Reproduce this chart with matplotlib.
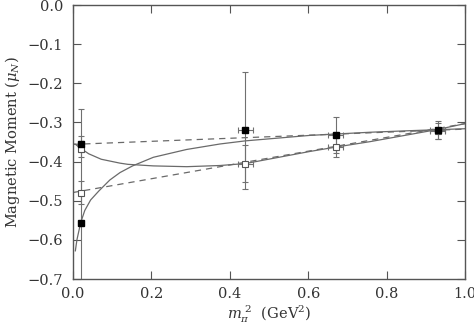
import matplotlib
matplotlib.use("Agg")
import matplotlib.pyplot as plt

plt.rcParams['font.family'] = ['DejaVu Serif']
plt.rcParams['mathtext.fontset'] = 'dejavuserif'

# Lattice points (m_pi^2, magnetic moment)
lat_x = [0.44, 0.67, 0.93]
lat_xerr = [0.02, 0.02, 0.02]
filled_y = [-0.320, -0.332, -0.319]
filled_yerr = [0.150, 0.047, 0.022]
open_y = [-0.405, -0.362, -0.321]
open_yerr = [0.047, 0.025, 0.020]

# Extrapolated values at physical pion mass
phys_x = [0.0196]
lin_filled_y = [-0.355]
lin_filled_err = [0.020]
chi_filled_y = [-0.556]
chi_filled_err = [0.290]
lin_open_y = [-0.479]
lin_open_err = [0.030]
chi_open_y = [-0.368]
chi_open_err = [0.021]

# Linear (dashed) fits: endpoints
lin1_x = [0.0, 1.0]
lin1_y = [-0.356, -0.317]
lin2_x = [0.0, 1.0]
lin2_y = [-0.479, -0.303]

# Chiral (solid) fits
chiA_x = [0.006, 0.01, 0.0196, 0.03, 0.045, 0.066, 0.094, 0.12, 0.152, 0.205,
          0.29, 0.375, 0.44, 0.605, 0.758, 0.86, 1.0]
chiA_y = [-0.628, -0.600, -0.556, -0.525, -0.498, -0.475, -0.447, -0.428, -0.411,
          -0.389, -0.369, -0.355, -0.347, -0.333, -0.325, -0.321, -0.316]
chiB_x = [0.005, 0.0196, 0.04, 0.072, 0.12, 0.14, 0.205, 0.29, 0.375, 0.44,
          0.605, 0.67, 0.758, 0.93, 1.0]
chiB_y = [-0.355, -0.366, -0.380, -0.394, -0.404, -0.407, -0.411, -0.413, -0.410,
          -0.405, -0.374, -0.363, -0.349, -0.318, -0.303]

xticks = [0.0, 0.2, 0.4, 0.6, 0.8, 1.0]
yticks = [0.0, -0.1, -0.2, -0.3, -0.4, -0.5, -0.6, -0.7]

fig = plt.figure(figsize=(4.74, 3.25), dpi=100)
ax = fig.add_axes([0.154, 0.1415, 0.827, 0.843])

lc = '#6a6a6a'
ax.plot(lin1_x, lin1_y, ls=(0, (5, 4)), color=lc, lw=0.9)
ax.plot(lin2_x, lin2_y, ls=(0, (5, 4)), color=lc, lw=0.9)
ax.plot(chiA_x, chiA_y, '-', color=lc, lw=0.9)
ax.plot(chiB_x, chiB_y, '-', color=lc, lw=0.9)

ekw = dict(ecolor='#707070', elinewidth=0.8, capsize=2.5, capthick=0.8, ls='none')
ax.errorbar(lat_x, open_y, yerr=open_yerr, xerr=lat_xerr, fmt='s', ms=4,
            mfc='white', mec='#555555', mew=0.8, **ekw)
ax.errorbar(lat_x, filled_y, yerr=filled_yerr, xerr=lat_xerr, fmt='s', ms=4,
            mfc='black', mec='black', **ekw)
ax.errorbar(phys_x, lin_open_y, yerr=lin_open_err, fmt='s', ms=4,
            mfc='white', mec='#555555', mew=0.8, **ekw)
ax.errorbar(phys_x, chi_open_y, yerr=chi_open_err, fmt='s', ms=4,
            mfc='white', mec='#555555', mew=0.8, **ekw)
ax.errorbar(phys_x, chi_filled_y, yerr=chi_filled_err, fmt='s', ms=4,
            mfc='black', mec='black', **ekw)
ax.errorbar(phys_x, lin_filled_y, yerr=lin_filled_err, fmt='s', ms=4,
            mfc='black', mec='black', **ekw)

ax.set_xlim(0.0, 1.0)
ax.set_ylim(-0.7, 0.0)
ax.set_xticks(xticks)
ax.set_yticks(yticks)
ax.set_xticklabels([f"{v:.1f}" for v in xticks])
ax.set_yticklabels([f"{v:.1f}".replace('-', '\u2212') for v in yticks])
ax.tick_params(direction='in', top=True, right=True, length=6, width=0.8,
               color='#555555', labelsize=10.5, labelcolor='#333333')
ax.tick_params(axis='x', pad=6)
ax.tick_params(axis='y', pad=7)
for s in ax.spines.values():
    s.set_color('#555555')
    s.set_linewidth(1.0)

ax.set_xlabel(r'$m_{\pi}^{\ 2}$  (GeV$^2$)', fontsize=10.5, color='#333333', labelpad=2)
ax.set_ylabel(r'Magnetic Moment ($\mu_N$)', fontsize=10.5, color='#333333', labelpad=4)

fig.savefig('out.png', dpi=100)
